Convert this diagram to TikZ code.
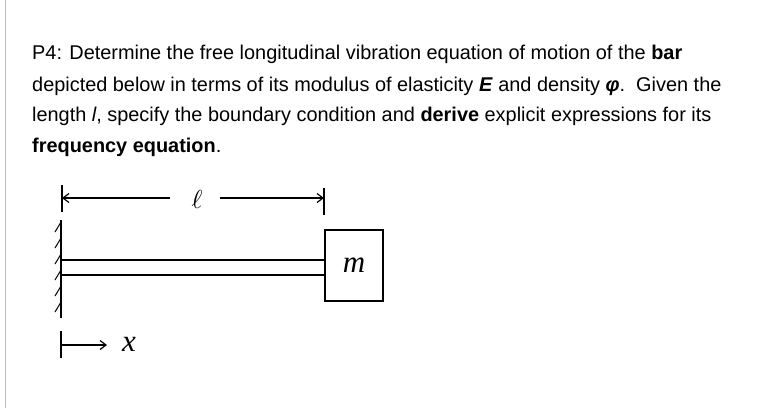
\documentclass[tikz,border=0pt]{standalone}
\usepackage{fontspec}
\setmainfont{Liberation Sans}
\newfontfamily\tms{Liberation Serif}
\usetikzlibrary{arrows.meta}
\begin{document}
\begin{tikzpicture}[x=1pt,y=-1pt,
 txt/.style={anchor=base west,inner sep=0pt,font=\fontsize{19.9}{22}\selectfont},
 lab/.style={font=\tms\itshape\fontsize{31}{33}\selectfont,inner sep=0pt},
 ln/.style={line width=1.3pt},
 arr/.style={line width=1.2pt,-{Straight Barb[length=6pt,width=9pt]}}]
\useasboundingbox[fill=white] (0,0) rectangle (775,408);
\draw[gray!50,line width=1pt] (5,0) -- (5,408);
\node[txt] (l1) at (32,59) {P4: Determine the free longitudinal vibration equation of motion of the \textbf{bar}};
\node[txt] (l2) at (32,91) {depicted below in terms of its modulus of elasticity \textbf{\textit{E}} and density \textbf{\textit{φ}}.\ \ Given the};
\node[txt] (l3) at (32,121) {length \textit{l}, specify the boundary condition and \textbf{derive} explicit expressions for its};
\node[txt] (l4) at (32,152) {\textbf{frequency equation}.};
% wall
\coordinate (wt) at (61,220); \coordinate (wb) at (61,318);
\draw[ln] (wt) -- (wb);
\foreach \y in {232,248,264,280,296,312} \draw[line width=1pt] (61,\y-10) -- (55,\y);
% bar
\node[draw,line width=1.2pt,minimum width=58pt,minimum height=71pt,inner sep=0pt,lab] (m) at (354,265.5) {m};
\draw[ln] (61,260) -- (m.west |- 0,260);
\draw[ln] (61,275) -- (m.west |- 0,275);
% dimension
\draw[line width=1.2pt] (62,185) -- (62,212);
\draw[line width=1.2pt] (324,188) -- (324,215);
\node (ell) at (197,199) {\scalebox{2.6}{$\ell$}};
\draw[arr] (170,198) -- (62,198);
\draw[arr] (220,198) -- (324,198);
% x axis
\draw[line width=1.3pt] (61,331) -- (61,358);
\draw[arr] (61,345) -- (107,345);
\node[lab] (x) at (129,344) {x};
\end{tikzpicture}
\end{document}
